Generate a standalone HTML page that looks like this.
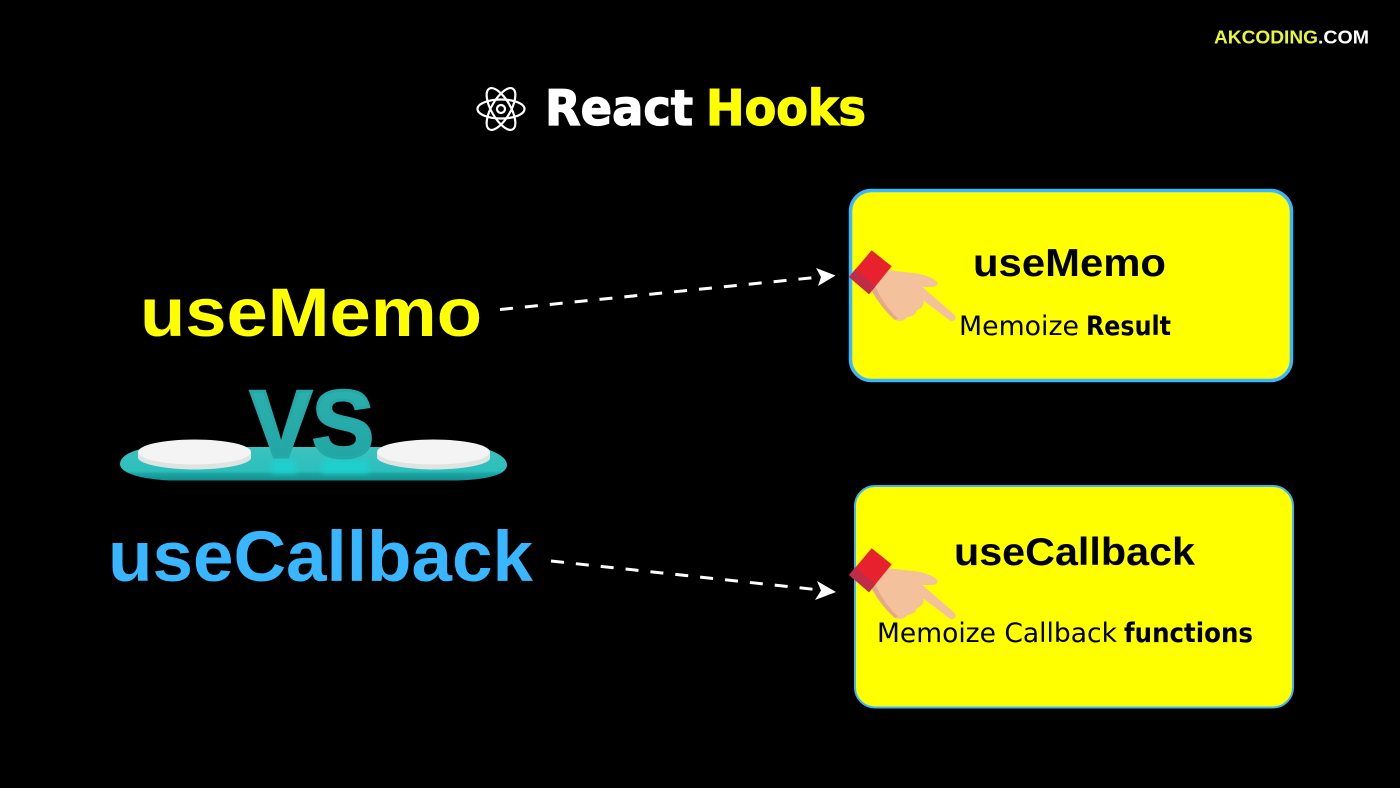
<!DOCTYPE html>
<html>
<head>
<meta charset="utf-8">
<style>
html,body{margin:0;padding:0;background:#000;width:1400px;height:788px;overflow:hidden}
svg{display:block}
.a{font-family:"Liberation Sans",sans-serif;font-weight:700}
.d{font-family:"DejaVu Sans",sans-serif;font-weight:700}
.n{font-family:"DejaVu Sans",sans-serif}
</style>
</head>
<body>
<svg width="1400" height="788" viewBox="0 0 1400 788" xmlns="http://www.w3.org/2000/svg">
<defs>
<linearGradient id="plat" x1="0" y1="0" x2="0" y2="1">
<stop offset="0" stop-color="#3cc2bf"/><stop offset="0.72" stop-color="#2cbfbc"/><stop offset="0.8" stop-color="#1ba5a3"/><stop offset="1" stop-color="#138f8e"/>
</linearGradient>
<linearGradient id="vs" x1="0" y1="0" x2="0" y2="1">
<stop offset="0" stop-color="#2eb3b1"/><stop offset="1" stop-color="#1fa3a2"/>
</linearGradient>
<filter id="soft" x="-30%" y="-30%" width="160%" height="160%"><feGaussianBlur stdDeviation="3"/></filter>
<g id="hand">
<path transform="translate(845,540) scale(.3333)" fill="#f3c19c" d="M130,85 L220,95 Q265,105 278,122 Q278,135 262,135 L232,135 L330,220 Q338,235 318,238 L235,175 Q240,195 215,205 Q212,222 187,225 Q175,242 150,234 Q115,205 85,155 L75,140 Z"/>
<path transform="translate(845,540) scale(.3333)" fill="#e5ab88" d="M80,145 L92,135 Q120,195 160,230 L150,234 Q115,205 85,155 Z"/>
<polygon points="871.700,548.300 891.700,564.300 869,592.300 849,575" fill="#e8212e"/>
<polygon points="849,575 869,592.300 875.500,584.500 855.500,567" fill="#c02c48"/>
</g>
</defs>

<rect width="1400" height="788" fill="#000"/>

<!-- watermark -->
<text x="1214" y="43.500" class="a" font-size="18.500" fill="#e8f53a" textLength="104" lengthAdjust="spacingAndGlyphs">AKCODING</text>
<text x="1318" y="43.500" class="a" font-size="18.500" fill="#fff" textLength="51" lengthAdjust="spacingAndGlyphs">.COM</text>

<!-- atom -->
<g fill="none" stroke="#fff" stroke-width="2.200" transform="translate(501,109)">
<ellipse rx="23.500" ry="9.500"/>
<ellipse rx="23.500" ry="9.500" transform="rotate(60)"/>
<ellipse rx="23.500" ry="9.500" transform="rotate(120)"/>
<circle r="4"/>
</g>

<!-- title -->
<text x="545" y="125" class="d" font-size="49" fill="#fff" stroke="#fff" stroke-width="1.300" textLength="148" lengthAdjust="spacingAndGlyphs">React</text>
<text x="706" y="125" class="d" font-size="49" fill="#ffff00" stroke="#ffff00" stroke-width="1.300" textLength="160" lengthAdjust="spacingAndGlyphs">Hooks</text>

<!-- left labels -->
<text x="140" y="336" class="a" font-size="69" fill="#ffff00" textLength="342" lengthAdjust="spacingAndGlyphs">useMemo</text>
<text x="108" y="581" class="a" font-size="71" fill="#38b6ff" textLength="425" lengthAdjust="spacingAndGlyphs">useCallback</text>

<!-- VS platform -->
<path d="M120,464 C120,456 132,450 150,447 L478,447 C497,451 507,458 507,465 C507,474 490,479.500 458,480.500 L170,480.500 C140,479 120,473 120,464Z" fill="url(#plat)"/>
<g filter="url(#soft)">
<rect x="272" y="460" width="24" height="13" fill="#1fd0cd"/>
<rect x="322" y="460" width="46" height="13" fill="#1fd0cd"/>
</g>
<text x="250" y="457" class="a" font-size="96" fill="url(#vs)" stroke="#25a9a8" stroke-width="3" textLength="124" lengthAdjust="spacingAndGlyphs">VS</text>
<path d="M138,452 L138,458 C140,465 170,469.500 195,469.500 C220,469.500 250,465 251,458 L251,452Z" fill="#dfe4e3"/>
<ellipse cx="194.500" cy="452" rx="56.500" ry="12.500" fill="#f4f4f4"/>
<path d="M377,452 L377,458 C380,465 410,469.500 434,469.500 C460,469.500 490,465 490,458 L490,452Z" fill="#dfe4e3"/>
<ellipse cx="433.500" cy="452" rx="56.500" ry="12.500" fill="#f4f4f4"/>

<!-- arrows -->
<line x1="500" y1="309.500" x2="820" y2="277" stroke="#fff" stroke-width="3" stroke-dasharray="13 12"/>
<polygon points="835.500,275.500 816,268 821,277 818,286" fill="#fff"/>
<line x1="551" y1="561" x2="820" y2="590" stroke="#fff" stroke-width="3" stroke-dasharray="13 12"/>
<polygon points="836,592 817,581 821,590.500 815,600" fill="#fff"/>

<!-- box 1 -->
<rect x="850.500" y="190.500" width="441" height="190" rx="21" ry="21" fill="#ffff00" stroke="#38b6ff" stroke-width="3.500"/>
<text x="973" y="276" class="a" font-size="39" fill="#000" textLength="193" lengthAdjust="spacingAndGlyphs">useMemo</text>
<text x="959" y="335" class="n" font-size="27" fill="#000" textLength="120" lengthAdjust="spacingAndGlyphs">Memoize</text>
<text x="1086" y="335" class="d" font-size="27" fill="#000" textLength="85" lengthAdjust="spacingAndGlyphs">Result</text>
<use href="#hand" transform="translate(0,-298)"/>

<!-- box 2 -->
<rect x="855" y="486" width="438" height="221.500" rx="20" ry="20" fill="#ffff00" stroke="#38b6ff" stroke-width="2"/>
<text x="954" y="565" class="a" font-size="39" fill="#000" textLength="241" lengthAdjust="spacingAndGlyphs">useCallback</text>
<text x="877" y="642" class="n" font-size="27" fill="#000" textLength="240" lengthAdjust="spacingAndGlyphs">Memoize Callback</text>
<text x="1124" y="642" class="d" font-size="27" fill="#000" textLength="129" lengthAdjust="spacingAndGlyphs">functions</text>
<use href="#hand"/>
</svg>
</body>
</html>
